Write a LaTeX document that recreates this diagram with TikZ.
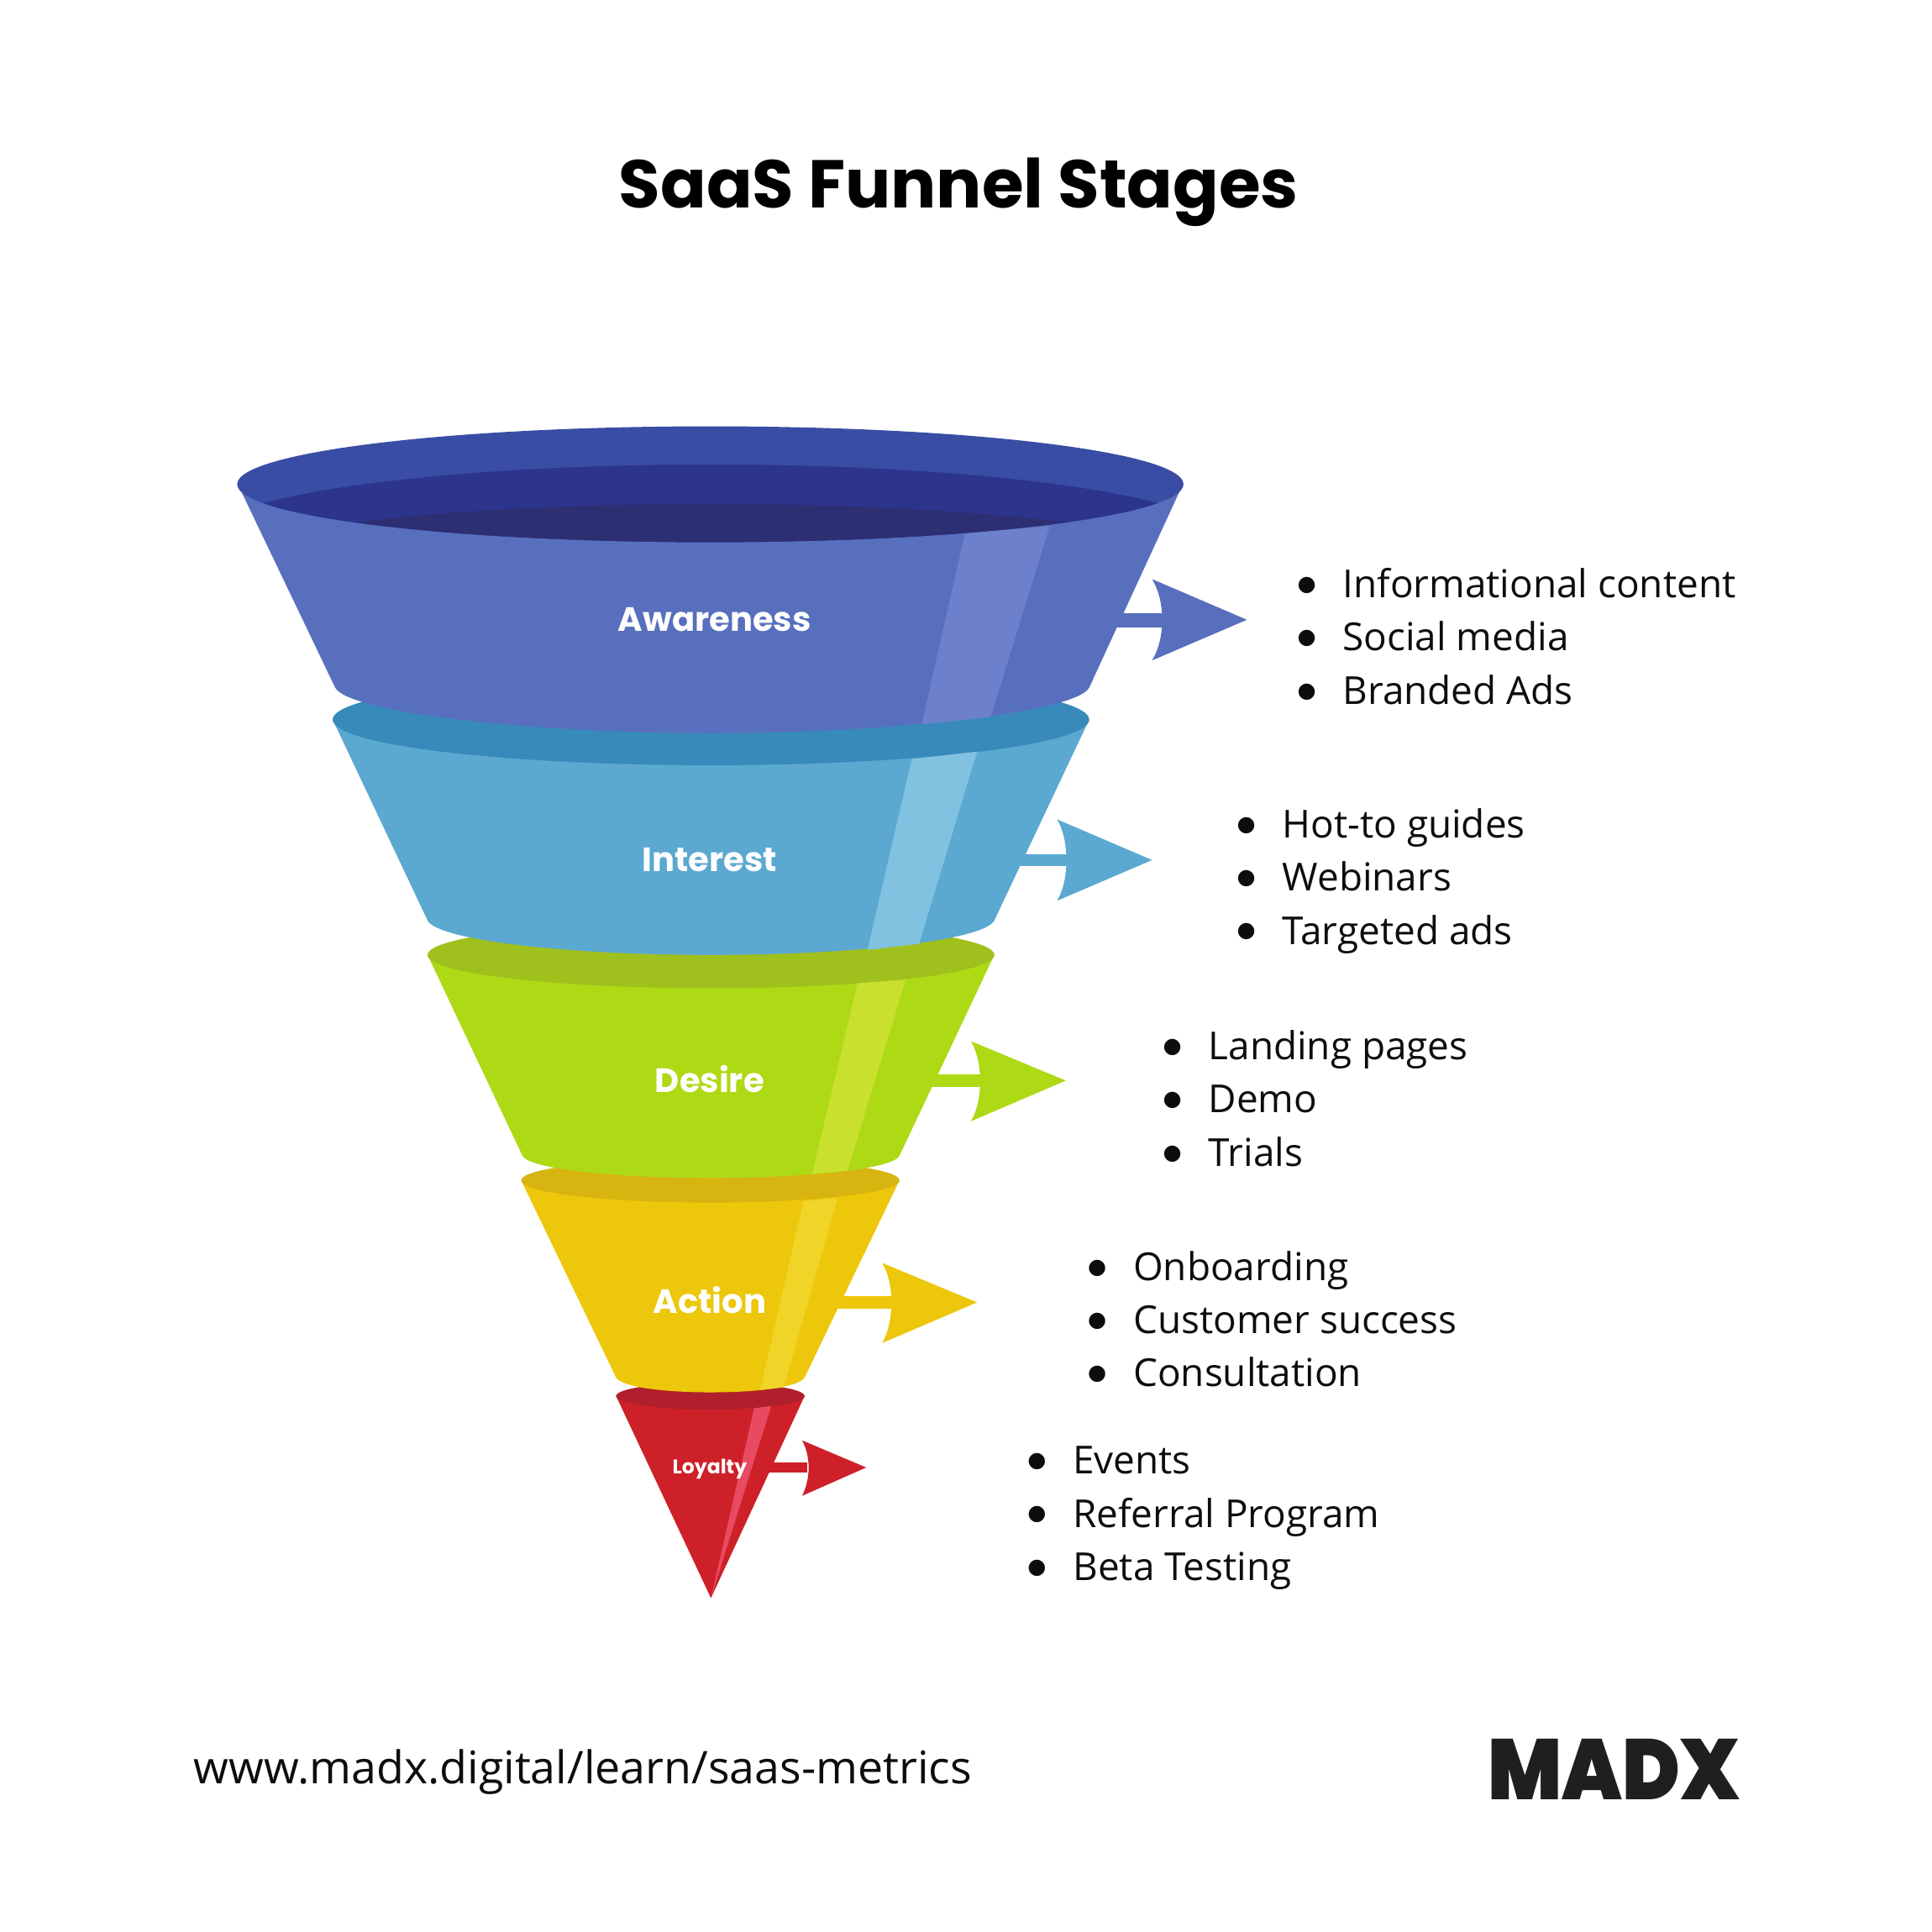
\documentclass[tikz,border=0pt]{standalone}
\usepackage{xcolor}
\usepackage{fontspec}
\setmainfont{Open Sans}
\newfontfamily\headfont{Poppins}[UprightFont=* Bold]
\newfontfamily\logofont{Poppins}[UprightFont=* Black]
\newfontfamily\dotfont{DejaVu Sans}
\usetikzlibrary{positioning}

\definecolor{awarebody}{HTML}{586FBE}
\definecolor{awarerim}{HTML}{3A4DA5}
\definecolor{awareinner}{HTML}{2C348B}
\definecolor{awaredeep}{HTML}{2D2F73}
\definecolor{awareshine}{HTML}{6C80CB}
\definecolor{interestbody}{HTML}{5BA8D1}
\definecolor{interestrim}{HTML}{388ABA}
\definecolor{interestshine}{HTML}{80C2DF}
\definecolor{desirebody}{HTML}{AED915}
\definecolor{desirerim}{HTML}{A0C01E}
\definecolor{desireshine}{HTML}{C9E02E}
\definecolor{actionbody}{HTML}{EDC70B}
\definecolor{actionrim}{HTML}{D8B410}
\definecolor{actionshine}{HTML}{F0D427}
\definecolor{loyalbody}{HTML}{CE2028}
\definecolor{loyalrim}{HTML}{B01F2B}
\definecolor{loyalshine}{HTML}{E84A62}

\newcommand{\blt}{\makebox[0.54cm][l]{\raisebox{2.3pt}{\dotfont\fontsize{7.2}{9}\selectfont ●}}}

\tikzset{
  stagelabel/.style={text=white, font=\headfont\fontsize{11.4}{14}\selectfont},
  bulletlist/.style={anchor=west, align=left, text=black!95, inner sep=0pt,
    font=\fontsize{13.05}{18}\selectfont}
}

\begin{document}
\begin{tikzpicture}[x=0.014668cm,y=-0.014668cm]
\useasboundingbox (0,0) rectangle (1568,1568);
\fill[white] (0,0) rectangle (1568,1568);

% Title
\node[font=\headfont\fontsize{22.9}{26}\selectfont] (title) at (778,156) {SaaS Funnel Stages};

% Loyalty
\fill[loyalbody] (620,1187) rectangle (655,1195);
\fill[loyalbody] (651,1169) .. controls (658,1182) and (658,1200) .. (651,1214) -- (703,1191) -- cycle;
\fill[loyalbody] (500,1133) -- (577,1297) -- (653,1133) -- cycle;
\fill[loyalrim] (576.5,1133) ellipse [x radius=76.5, y radius=11];
\fill[loyalshine] (626,1141) -- (612,1143) -- (577,1297) -- cycle;
\node[stagelabel, font=\headfont\fontsize{6.7}{8}\selectfont] (loyalty) at (576,1192) {Loyalty};

% Action
\fill[actionbody] (680,1052) rectangle (725,1062);
\fill[actionbody] (716,1025) .. controls (726,1042) and (726,1072) .. (716,1090) -- (793,1057) -- cycle;
\fill[actionbody] (423,958) -- (500,1118) .. controls (505,1126) and (540,1130) .. (577,1130)
  .. controls (614,1130) and (648,1126) .. (653,1118) -- (730,958) -- cycle;
\fill[actionrim] (576.5,958) ellipse [x radius=153.5, y radius=18];
\fill[actionshine] (680,972) -- (652,975) -- (617,1128) -- (636,1126) -- cycle;
\node[stagelabel] (action) at (576,1055) {Action};

% Desire
\fill[desirebody] (755,872) rectangle (798,882);
\fill[desirebody] (788,845) .. controls (798,862) and (798,893) .. (788,910) -- (865,877) -- cycle;
\fill[desirebody] (347,775) -- (424,938) .. controls (430,949) and (500,956) .. (577,956)
  .. controls (654,956) and (724,949) .. (730,938) -- (807,775) -- cycle;
\fill[desirerim] (577,775) ellipse [x radius=230, y radius=27];
\fill[desireshine] (735,795) -- (696,798) -- (659,953) -- (688,950) -- cycle;
\node[stagelabel] (desire) at (576,876) {Desire};

% Interest
\fill[interestbody] (825,693) rectangle (868,703);
\fill[interestbody] (858,665) .. controls (868,682) and (868,714) .. (858,731) -- (935,698) -- cycle;
\fill[interestbody] (270,584) -- (347,747) .. controls (355,763) and (460,775) .. (577,775)
  .. controls (694,775) and (799,763) .. (807,747) -- (884,584) -- cycle;
\fill[interestrim] (577,584) ellipse [x radius=307, y radius=37];
\fill[interestshine] (793,610) -- (740,616) -- (704,771) -- (746,766) -- cycle;
\node[stagelabel] (interest) at (576,698) {Interest};

% Awareness
\fill[awarebody] (905,498) rectangle (945,509);
\fill[awarebody] (935,470) .. controls (946,488) and (946,518) .. (935,536) -- (1012,503) -- cycle;
\fill[awarebody] (193,393) -- (272,558) .. controls (282,578) and (430,595) .. (577,595)
  .. controls (724,595) and (874,578) .. (884,558) -- (960,393) -- cycle;
\fill[awarerim] (576.5,393) ellipse [x radius=384, y radius=47];
\begin{scope}
  \clip (576.5,393) ellipse [x radius=384, y radius=47];
  \fill[awareinner] (576.5,437) ellipse [x radius=413, y radius=60];
  \fill[awaredeep] (576.5,469) ellipse [x radius=438, y radius=60];
\end{scope}
\fill[awareshine] (852,427) -- (783,433) -- (748,588) -- (804,582) -- cycle;
\node[stagelabel] (awareness) at (580,503) {Awareness};

% Lists
\node[bulletlist] (awarenesslist) at (1052.5,516.5) {\blt Informational content\\\blt Social media\\\blt Branded Ads};
\node[bulletlist] (interestlist) at (1003.5,715) {\blt Hot-to guides\\\blt Webinars\\\blt Targeted ads};
\node[bulletlist] (desirelist) at (943.5,891.5) {\blt Landing pages\\\blt Demo\\\blt Trials};
\node[bulletlist] (actionlist) at (882.5,1070.5) {\blt Onboarding\\\blt Customer success\\\blt Consultation};
\node[bulletlist] (loyaltylist) at (833.5,1232) {\blt Events\\\blt Referral Program\\\blt Beta Testing};

% Footer
\node[anchor=west, inner sep=0pt, text=black!95, font=\fontsize{15.27}{18}\selectfont] (link) at (157,1438) {www.madx.digital/learn/saas-metrics};
\node[inner sep=0pt, text=black!88, font=\logofont\fontsize{29}{32}\selectfont] (logo) at (1310,1436) {\scalebox{0.91}[1]{MADX}};
\end{tikzpicture}
\end{document}
